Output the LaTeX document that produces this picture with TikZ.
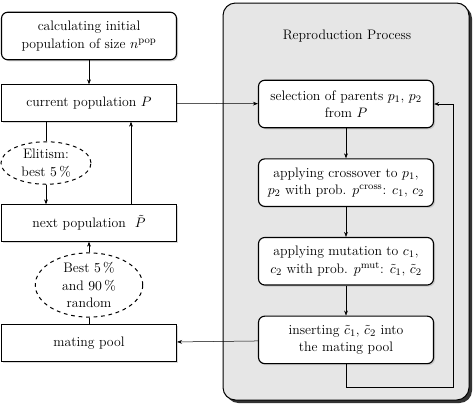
\documentclass[tikz,border=0pt]{standalone}
\usepackage{amsmath,amssymb}
\usepackage{tikz}
\usetikzlibrary{arrows.meta,positioning,shapes.geometric,shadows}
\definecolor{panelgray}{RGB}{230,230,230}

\begin{document}
\begin{tikzpicture}[x=0.8pt,y=-0.8pt,font=\fontsize{11}{14}\selectfont,>={Stealth[length=4pt,width=3pt]},
  box/.style={draw,line width=0.9pt,fill=white,minimum width=140pt,minimum height=29pt,align=center,
    drop shadow={shadow xshift=1.2pt,shadow yshift=-1.2pt,opacity=0.3}},
  rbox/.style={box,rounded corners=5pt,minimum height=38pt},
  oval/.style={draw,line width=0.8pt,dashed,ellipse,fill=white,align=center,inner sep=0pt}]
\useasboundingbox (0,0) rectangle (474,406);
% reproduction panel
\draw[line width=0.8pt,rounded corners=10pt,fill=panelgray,
  drop shadow={shadow xshift=2.4pt,shadow yshift=-2.4pt,fill=black!80,opacity=1}]
  (223,3) rectangle (469,400);
\node (title) at (347,36) {Reproduction Process};
% left column
\node[rbox] (init) at (89,36) {calculating initial\\population of size $n^{\mathrm{pop}}$};
\node[box] (cur) at (89,103) {current population $P$};
\node[oval,minimum width=72pt,minimum height=34pt] (elit) at (46,163) {Elitism:\\best $5\,\%$};
\node[box] (next) at (89,223) {next population~ $\tilde{P}$};
\node[oval,minimum width=86pt,minimum height=49pt] (best) at (89,285) {Best $5\,\%$\\and $90\,\%$\\random};
\node[box] (mat) at (89,343) {mating pool};
% right column
\node[rbox] (sel) at (346,104) {selection of parents $p_1$, $p_2$\\from $P$};
\node[rbox,below=24pt of sel] (cross) {applying crossover to $p_1$,\\$p_2$ with prob. $p^{\mathrm{cross}}$: $c_1$, $c_2$};
\node[rbox,below=24pt of cross] (mut) {applying mutation to $c_1$,\\$c_2$ with prob. $p^{\mathrm{mut}}$: $\tilde{c}_1$, $\tilde{c}_2$};
\node[rbox,below=24pt of mut] (ins) {inserting $\tilde{c}_1$, $\tilde{c}_2$ into\\the mating pool};
\coordinate (loop) at (453,387);
% connectors
\draw[->] (init) -- (cur);
\draw[->] (cur) -- (sel);
\draw (cur.south -| elit.north) -- (elit.north);
\draw[->] (elit.south) -- (next.north -| elit.south);
\draw[->] ([xshift=33.6pt]next.north) -- ([xshift=33.6pt]cur.south);
\draw (mat) -- (best);
\draw[->] (best) -- (next);
\draw[->] (sel) -- (cross);
\draw[->] (cross) -- (mut);
\draw[->] (mut) -- (ins);
\draw[->] (ins) -- (mat);
\draw[->] (ins.south) |- (loop) |- (sel.east);
\end{tikzpicture}
\end{document}
